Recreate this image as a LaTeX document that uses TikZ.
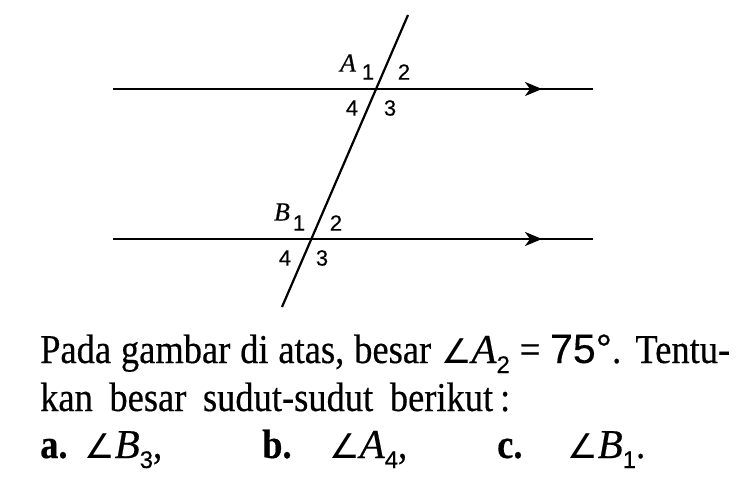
\documentclass[tikz,border=0pt]{standalone}
\usepackage{fontspec}
\setmainfont{Liberation Serif}
\newfontfamily\txtfont[FakeStretch=0.89,FakeBold=0.4]{Liberation Serif}
\newfontfamily\mifont[FakeBold=0.4]{Liberation Serif Italic}
\newfontfamily\digfont[FakeBold=0.3]{Liberation Sans}
\newfontfamily\symfont{DejaVu Sans}
\usetikzlibrary{arrows.meta}
\newcommand\myang{{\fontsize{34}{34}\selectfont\symfont ∠}}
\newcommand\mysub[1]{\raisebox{-10pt}{\fontsize{24}{24}\selectfont\digfont #1}}
\newcommand\mi[1]{{\mifont #1}}
\tikzset{
  ln/.style={line width=2.2pt},
  tipline/.style={line width=2.2pt, -{Stealth[length=17pt,width=14pt,inset=5pt]}},
  lab/.style={inner sep=0pt, font=\fontsize{22}{22}\selectfont\digfont},
  ptlab/.style={inner sep=0pt, font=\fontsize{26}{26}\selectfont\mifont},
  body/.style={inner sep=0pt, anchor=base west, font=\fontsize{41}{45}\selectfont\txtfont},
}
\begin{document}
\begin{tikzpicture}[x=1pt,y=-1pt]
\useasboundingbox (0,0) rectangle (750,484);
% parallel lines
\coordinate (s1) at (113,89);
\coordinate (e1) at (593,89);
\coordinate (m1) at (542,89);
\coordinate (s2) at (113,239);
\coordinate (e2) at (593,239);
\coordinate (m2) at (542,239);
\coordinate (t1) at (408,15);
\coordinate (t2) at (282,307);
\draw[ln] (s1) -- (e1);
\draw[tipline] (s1) -- (m1);
\draw[ln] (s2) -- (e2);
\draw[tipline] (s2) -- (m2);
\draw[ln] (t1) -- (t2);
% labels at A
\node[ptlab] (A) at (348,63) {A};
\node[lab] (a1) at (368,72) {1};
\node[lab] (a2) at (404,72) {2};
\node[lab] (a4) at (352,108) {4};
\node[lab] (a3) at (390,108) {3};
% labels at B
\node[ptlab] (B) at (282,212) {B};
\node[lab] (b1) at (299,223) {1};
\node[lab] (b2) at (336,223) {2};
\node[lab] (b4) at (285,258) {4};
\node[lab] (b3) at (322,258) {3};
% text
\node[body] (l1) at (40,363) {\makebox[690pt][s]{Pada gambar di atas, besar \myang\mi{A}\mysub{2} = {\digfont 75°}. Tentu-}};
\node[body] (l2) at (40,411) {\makebox[470pt][s]{kan besar sudut-sudut berikut\,:}};
\node[body] (qa) at (40,458) {\bfseries a.};
\node[body] (qab) at (84,458) {\myang\mi{B}\mysub{3},};
\node[body] (qb) at (262,458) {\bfseries b.};
\node[body] (qbb) at (329,458) {\myang\mi{A}\mysub{4},};
\node[body] (qc) at (497,458) {\bfseries c.};
\node[body] (qcb) at (567,458) {\myang\mi{B}\mysub{1}.};
\end{tikzpicture}
\end{document}
